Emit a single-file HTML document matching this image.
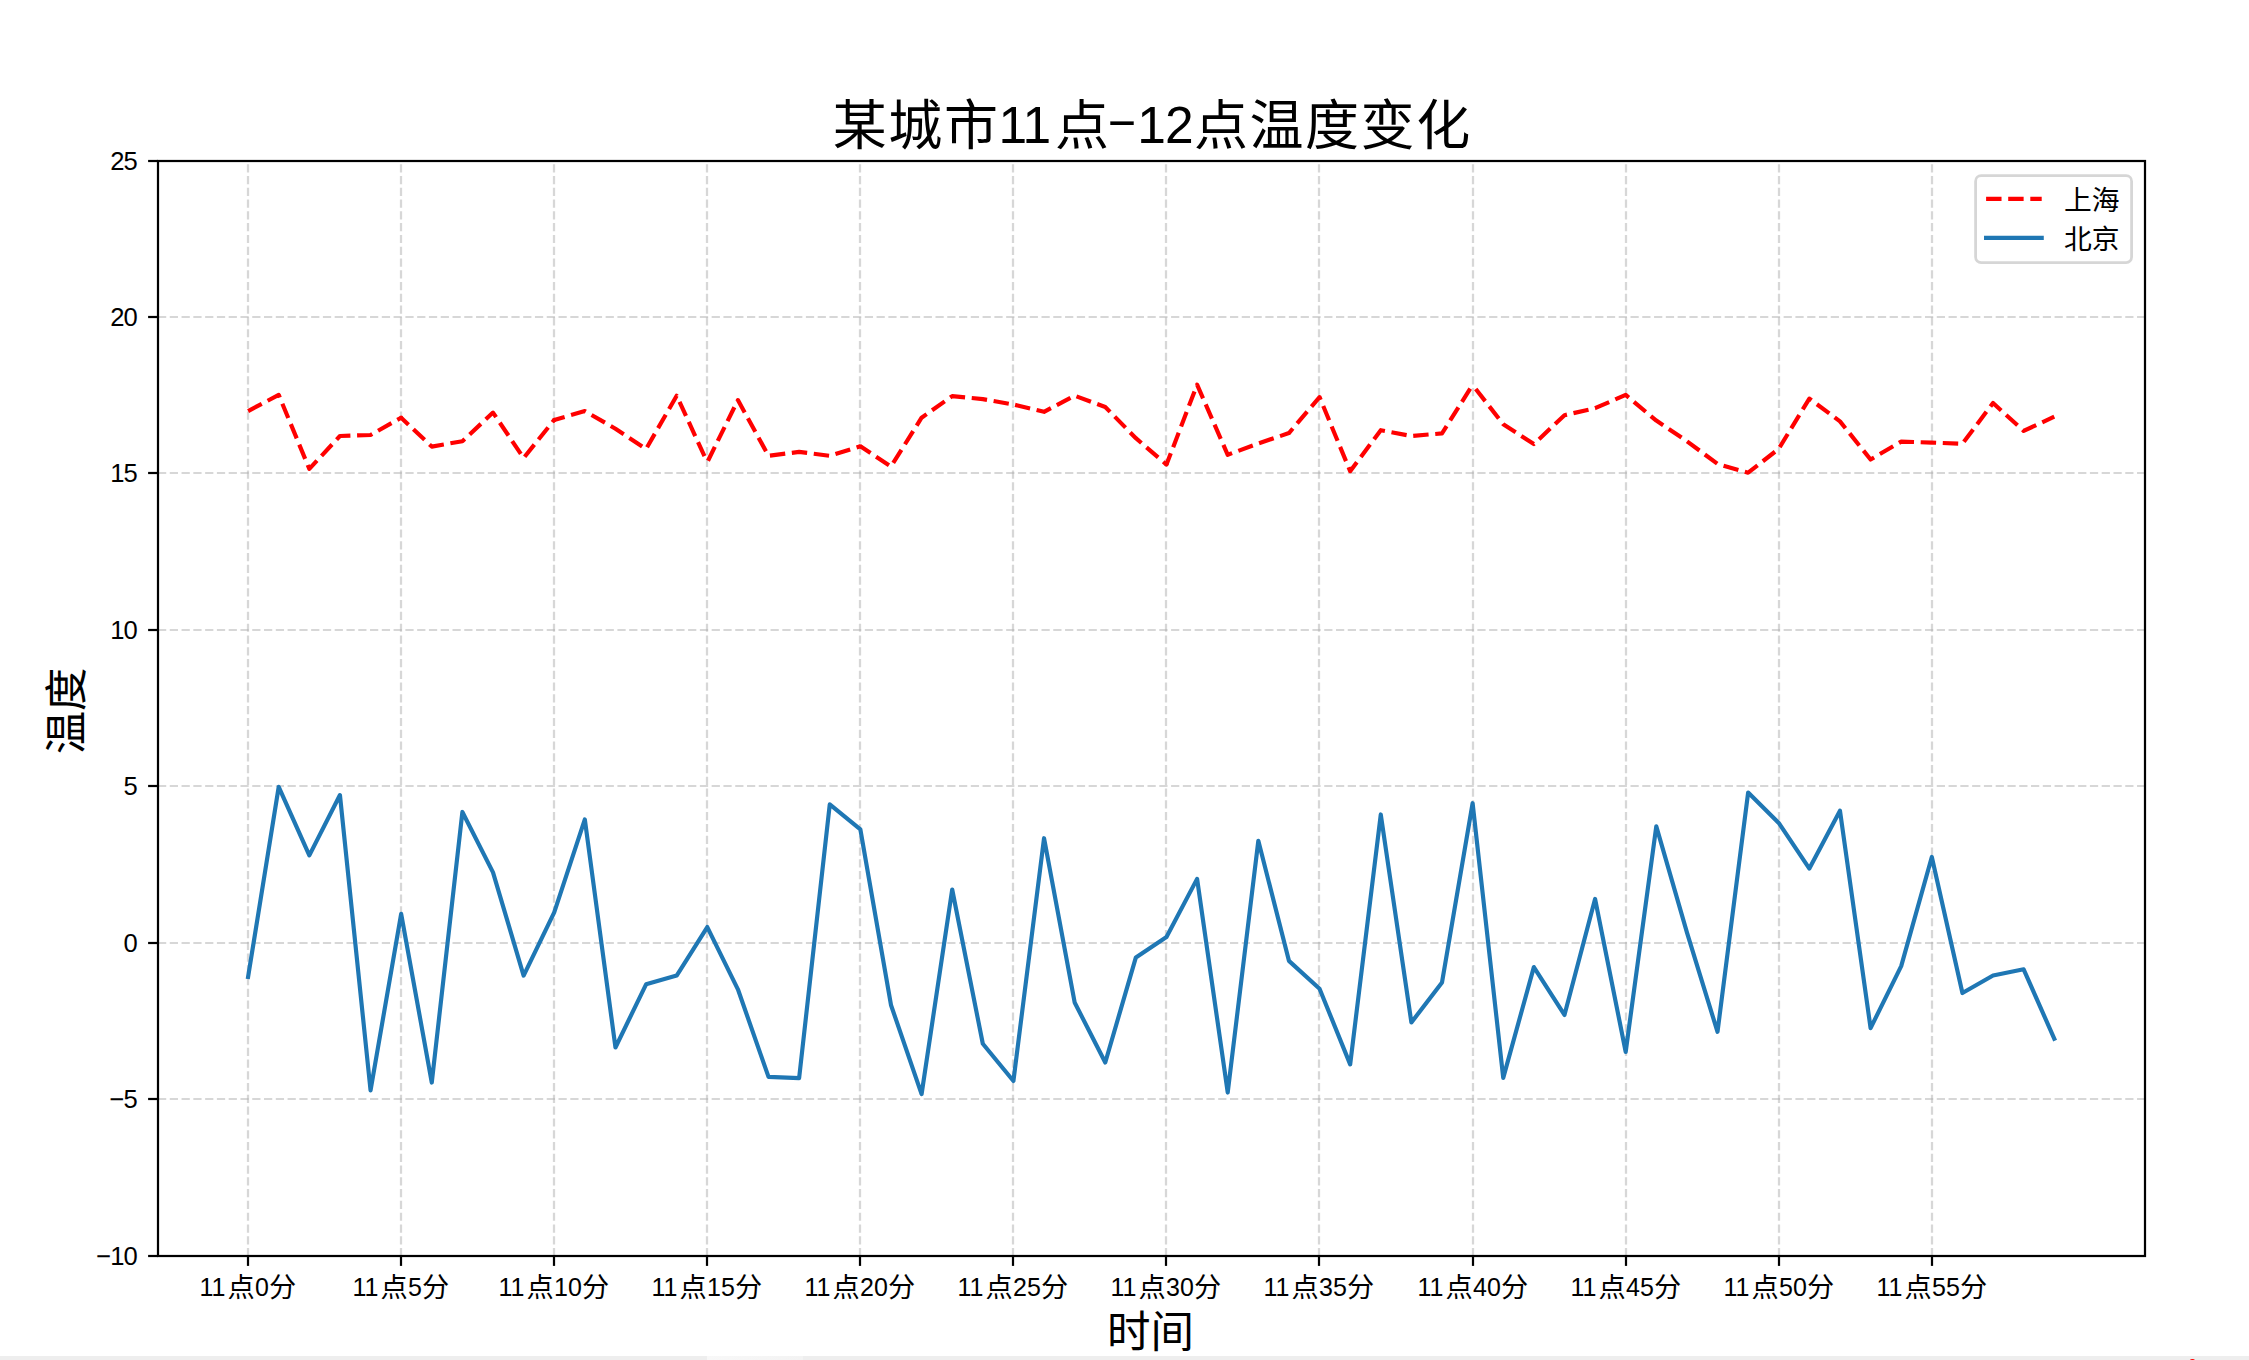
<!DOCTYPE html>
<html lang="zh-CN">
<head>
<meta charset="utf-8">
<title>某城市11点-12点温度变化</title>
<style>
html,body{margin:0;padding:0;background:#fff;}
body{width:2249px;height:1360px;overflow:hidden;position:relative;}
svg{display:block;position:absolute;left:0;top:0;}
text{font-family:"Liberation Sans","Noto Sans CJK SC",sans-serif;fill:#000;}
.d{font-family:"Liberation Sans",sans-serif;}
.c{font-family:"Liberation Sans","Noto Sans CJK SC",sans-serif;}
</style>
</head>
<body>
<svg width="2249" height="1360" viewBox="0 0 2249 1360">
<defs><linearGradient id="sg" x1="0" x2="1" y1="0" y2="0"><stop offset="0" stop-color="#f8f8f8"/><stop offset="1" stop-color="#f3f3f3"/></linearGradient>
<clipPath id="ax"><rect x="158.0" y="161.0" width="1987.0" height="1095.0"/></clipPath></defs>
<rect x="0" y="0" width="2249" height="1360" fill="#ffffff"/>
<g stroke="#b0b0b0" stroke-opacity="0.5" stroke-width="2.22" stroke-dasharray="8.22 3.56" fill="none" clip-path="url(#ax)">
<path d="M248 1256.2V160.5"/>
<path d="M401 1256.2V160.5"/>
<path d="M554 1256.2V160.5"/>
<path d="M707 1256.2V160.5"/>
<path d="M860 1256.2V160.5"/>
<path d="M1013 1256.2V160.5"/>
<path d="M1166 1256.2V160.5"/>
<path d="M1319 1256.2V160.5"/>
<path d="M1473 1256.2V160.5"/>
<path d="M1626 1256.2V160.5"/>
<path d="M1779 1256.2V160.5"/>
<path d="M1932 1256.2V160.5"/>
<path d="M158 161H2145"/>
<path d="M158 317H2145"/>
<path d="M158 473H2145"/>
<path d="M158 630H2145"/>
<path d="M158 786H2145"/>
<path d="M158 943H2145"/>
<path d="M158 1099H2145"/>
<path d="M158 1256H2145"/>
</g>
<g fill="none" stroke="#ff0000" stroke-width="4.17" stroke-dasharray="15.43 6.67" stroke-linejoin="round" stroke-linecap="butt">
<polyline points="248.10,411.10 278.71,394.90 309.33,468.90 339.94,436.00 370.55,435.00 401.16,417.70" stroke-dashoffset="0.00"/>
<polyline points="401.16,417.70 431.78,446.60 462.39,441.20 493.00,412.60 523.62,458.00 554.23,419.90" stroke-dashoffset="5.30"/>
<polyline points="554.23,419.90 584.84,411.10 615.46,428.70 646.07,449.00 676.68,395.70 707.29,462.20" stroke-dashoffset="4.60"/>
<polyline points="707.29,462.20 737.91,400.10 768.52,455.80 799.13,451.90 829.75,455.80 860.36,446.30" stroke-dashoffset="20.50"/>
<polyline points="860.36,446.30 890.97,466.60 921.59,417.70 952.20,396.10 982.81,399.10 1013.43,404.50" stroke-dashoffset="3.20"/>
<polyline points="1013.43,404.50 1044.04,411.80 1074.65,395.70 1105.26,407.00 1135.88,438.20 1166.49,464.60" stroke-dashoffset="20.40"/>
<polyline points="1166.49,464.60 1197.10,384.70 1227.72,454.80 1258.33,443.40 1288.94,433.10 1319.55,397.10 1350.17,471.20 1380.78,430.20 1411.39,436.00 1442.01,433.40 1472.62,384.90" stroke-dashoffset="3.40"/>
<polyline points="1472.62,384.90 1503.23,424.30 1533.85,444.10 1564.46,415.20 1595.07,408.20 1625.68,394.90 1656.30,420.60 1686.91,441.20 1717.52,463.90 1748.14,472.70 1778.75,448.80" stroke-dashoffset="17.00"/>
<polyline points="1778.75,448.80 1809.36,398.60 1839.98,421.40 1870.59,459.50 1901.20,441.60 1931.81,442.60 1962.43,443.80 1993.04,403.00 2023.65,430.90 2054.27,416.70" stroke-dashoffset="20.20"/>
</g>
<circle cx="401.16" cy="417.70" r="2.085" fill="#ff0000"/>
<circle cx="554.23" cy="419.90" r="2.085" fill="#ff0000"/>
<circle cx="860.36" cy="446.30" r="2.085" fill="#ff0000"/>
<circle cx="1166.49" cy="464.60" r="2.085" fill="#ff0000"/>
<polyline points="248.10,976.95 278.71,786.93 309.33,855.43 339.94,795.06 370.55,1090.34 401.16,913.92 431.78,1082.52 462.39,811.95 493.00,872.32 523.62,975.54 554.23,912.36 584.84,819.46 615.46,1047.49 646.07,984.30 676.68,975.54 707.29,927.06 737.91,989.31 768.52,1076.89 799.13,1078.14 829.75,804.44 860.36,829.47 890.97,1004.95 921.59,1094.10 952.20,889.52 982.81,1043.73 1013.43,1080.96 1044.04,838.22 1074.65,1002.44 1105.26,1062.50 1135.88,957.40 1166.49,937.07 1197.10,878.89 1227.72,1092.53 1258.33,840.73 1288.94,960.84 1319.55,988.68 1350.17,1064.38 1380.78,814.45 1411.39,1022.46 1442.01,982.43 1472.62,803.19 1503.23,1077.83 1533.85,967.10 1564.46,1014.96 1595.07,898.91 1625.68,1051.87 1656.30,826.34 1686.91,932.38 1717.52,1031.85 1748.14,792.56 1778.75,822.90 1809.36,868.57 1839.98,810.70 1870.59,1028.09 1901.20,966.16 1931.81,856.99 1962.43,993.06 1993.04,975.54 2023.65,969.29 2054.27,1038.73" fill="none" stroke="#1f77b4" stroke-width="4.17" stroke-linejoin="round" stroke-linecap="square"/>
<rect x="158.00" y="161.00" width="1987.00" height="1095.00" fill="none" stroke="#000" stroke-width="2.22" stroke-linejoin="miter"/>
<g stroke="#000" stroke-width="2.22" fill="none">
<path d="M248 1256.00v9.90"/>
<path d="M401 1256.00v9.90"/>
<path d="M554 1256.00v9.90"/>
<path d="M707 1256.00v9.90"/>
<path d="M860 1256.00v9.90"/>
<path d="M1013 1256.00v9.90"/>
<path d="M1166 1256.00v9.90"/>
<path d="M1319 1256.00v9.90"/>
<path d="M1473 1256.00v9.90"/>
<path d="M1626 1256.00v9.90"/>
<path d="M1779 1256.00v9.90"/>
<path d="M1932 1256.00v9.90"/>
<path d="M158.00 161h-9.90"/>
<path d="M158.00 317h-9.90"/>
<path d="M158.00 473h-9.90"/>
<path d="M158.00 630h-9.90"/>
<path d="M158.00 786h-9.90"/>
<path d="M158.00 943h-9.90"/>
<path d="M158.00 1099h-9.90"/>
<path d="M158.00 1256h-9.90"/>
</g>
<text class="d" x="136.90" y="170.30" font-size="25.60" letter-spacing="-0.90" text-anchor="end">25</text>
<text class="d" x="136.90" y="326.30" font-size="25.60" letter-spacing="-0.90" text-anchor="end">20</text>
<text class="d" x="136.90" y="482.30" font-size="25.60" letter-spacing="-0.90" text-anchor="end">15</text>
<text class="d" x="136.90" y="639.30" font-size="25.60" letter-spacing="-0.90" text-anchor="end">10</text>
<text class="d" x="136.90" y="795.30" font-size="25.60" letter-spacing="-0.90" text-anchor="end">5</text>
<text class="d" x="136.90" y="952.30" font-size="25.60" letter-spacing="-0.90" text-anchor="end">0</text>
<text class="d" x="136.90" y="1108.30" font-size="25.60" letter-spacing="-0.90" text-anchor="end">−5</text>
<text class="d" x="136.90" y="1265.30" font-size="25.60" letter-spacing="-0.90" text-anchor="end">−10</text>
<text><tspan class="d" x="199.38" y="1295.90" font-size="25.00">11</tspan><tspan class="c" x="227.45" y="1297.20" font-size="27.20">点</tspan><tspan class="d" x="254.94" y="1295.90" font-size="25.00">0</tspan><tspan class="c" x="269.12" y="1297.20" font-size="27.20">分</tspan></text>
<text><tspan class="d" x="352.38" y="1295.90" font-size="25.00">11</tspan><tspan class="c" x="380.45" y="1297.20" font-size="27.20">点</tspan><tspan class="d" x="407.94" y="1295.90" font-size="25.00">5</tspan><tspan class="c" x="422.12" y="1297.20" font-size="27.20">分</tspan></text>
<text><tspan class="d" x="498.44" y="1295.90" font-size="25.00">11</tspan><tspan class="c" x="526.51" y="1297.20" font-size="27.20">点</tspan><tspan class="d" x="554.00" y="1295.90" font-size="25.00">10</tspan><tspan class="c" x="582.07" y="1297.20" font-size="27.20">分</tspan></text>
<text><tspan class="d" x="651.44" y="1295.90" font-size="25.00">11</tspan><tspan class="c" x="679.51" y="1297.20" font-size="27.20">点</tspan><tspan class="d" x="707.00" y="1295.90" font-size="25.00">15</tspan><tspan class="c" x="735.07" y="1297.20" font-size="27.20">分</tspan></text>
<text><tspan class="d" x="804.44" y="1295.90" font-size="25.00">11</tspan><tspan class="c" x="832.51" y="1297.20" font-size="27.20">点</tspan><tspan class="d" x="860.00" y="1295.90" font-size="25.00">20</tspan><tspan class="c" x="888.07" y="1297.20" font-size="27.20">分</tspan></text>
<text><tspan class="d" x="957.44" y="1295.90" font-size="25.00">11</tspan><tspan class="c" x="985.51" y="1297.20" font-size="27.20">点</tspan><tspan class="d" x="1013.00" y="1295.90" font-size="25.00">25</tspan><tspan class="c" x="1041.07" y="1297.20" font-size="27.20">分</tspan></text>
<text><tspan class="d" x="1110.44" y="1295.90" font-size="25.00">11</tspan><tspan class="c" x="1138.51" y="1297.20" font-size="27.20">点</tspan><tspan class="d" x="1166.00" y="1295.90" font-size="25.00">30</tspan><tspan class="c" x="1194.07" y="1297.20" font-size="27.20">分</tspan></text>
<text><tspan class="d" x="1263.44" y="1295.90" font-size="25.00">11</tspan><tspan class="c" x="1291.51" y="1297.20" font-size="27.20">点</tspan><tspan class="d" x="1319.00" y="1295.90" font-size="25.00">35</tspan><tspan class="c" x="1347.07" y="1297.20" font-size="27.20">分</tspan></text>
<text><tspan class="d" x="1417.44" y="1295.90" font-size="25.00">11</tspan><tspan class="c" x="1445.51" y="1297.20" font-size="27.20">点</tspan><tspan class="d" x="1473.00" y="1295.90" font-size="25.00">40</tspan><tspan class="c" x="1501.07" y="1297.20" font-size="27.20">分</tspan></text>
<text><tspan class="d" x="1570.44" y="1295.90" font-size="25.00">11</tspan><tspan class="c" x="1598.51" y="1297.20" font-size="27.20">点</tspan><tspan class="d" x="1626.00" y="1295.90" font-size="25.00">45</tspan><tspan class="c" x="1654.07" y="1297.20" font-size="27.20">分</tspan></text>
<text><tspan class="d" x="1723.44" y="1295.90" font-size="25.00">11</tspan><tspan class="c" x="1751.51" y="1297.20" font-size="27.20">点</tspan><tspan class="d" x="1779.00" y="1295.90" font-size="25.00">50</tspan><tspan class="c" x="1807.07" y="1297.20" font-size="27.20">分</tspan></text>
<text><tspan class="d" x="1876.44" y="1295.90" font-size="25.00">11</tspan><tspan class="c" x="1904.51" y="1297.20" font-size="27.20">点</tspan><tspan class="d" x="1932.00" y="1295.90" font-size="25.00">55</tspan><tspan class="c" x="1960.07" y="1297.20" font-size="27.20">分</tspan></text>
<text><tspan class="c" x="832.81" y="145.20" font-size="54.00" letter-spacing="1.56">某城市</tspan><tspan class="d" x="998.41" y="142.70" font-size="51.50" letter-spacing="-0.85">11</tspan><tspan class="c" x="1055.05" y="145.20" font-size="54.00" letter-spacing="1.56">点</tspan><tspan class="d" x="1106.00" y="135.60" font-size="46.00" textLength="32.00" lengthAdjust="spacingAndGlyphs">-</tspan><tspan class="d" x="1137.31" y="142.70" font-size="51.50" letter-spacing="-0.85">12</tspan><tspan class="c" x="1193.95" y="145.20" font-size="54.00" letter-spacing="1.56">点温度变化</tspan></text>
<text class="c" x="1150.60" y="1346.50" font-size="43.50" text-anchor="middle">时间</text>
<text class="c" transform="translate(82.20 711.00) rotate(-90)" font-size="43.30" text-anchor="middle">温度</text>
<rect x="1975.60" y="175.70" width="156.00" height="86.90" rx="5.5" ry="5.5" fill="#ffffff" fill-opacity="0.8" stroke="#cccccc" stroke-opacity="0.8" stroke-width="2.78"/>
<path d="M1986.1 198.8H2041.7" stroke="#ff0000" stroke-width="4.17" stroke-dasharray="15.43 6.67" fill="none"/>
<path d="M1986.1 237.9H2041.7" stroke="#1f77b4" stroke-width="4.17" stroke-linecap="square" fill="none"/>
<text class="c" x="2063.90" y="209.50" font-size="27.78">上海</text>
<text class="c" x="2063.90" y="248.50" font-size="27.78">北京</text>
<rect x="0" y="1356" width="2249" height="4" fill="#eeeeee"/>
<rect x="707" y="1356" width="96" height="4" fill="url(#sg)"/>
<circle cx="2192.4" cy="1361.9" r="3" fill="#ff0000"/>
</svg>
</body>
</html>
